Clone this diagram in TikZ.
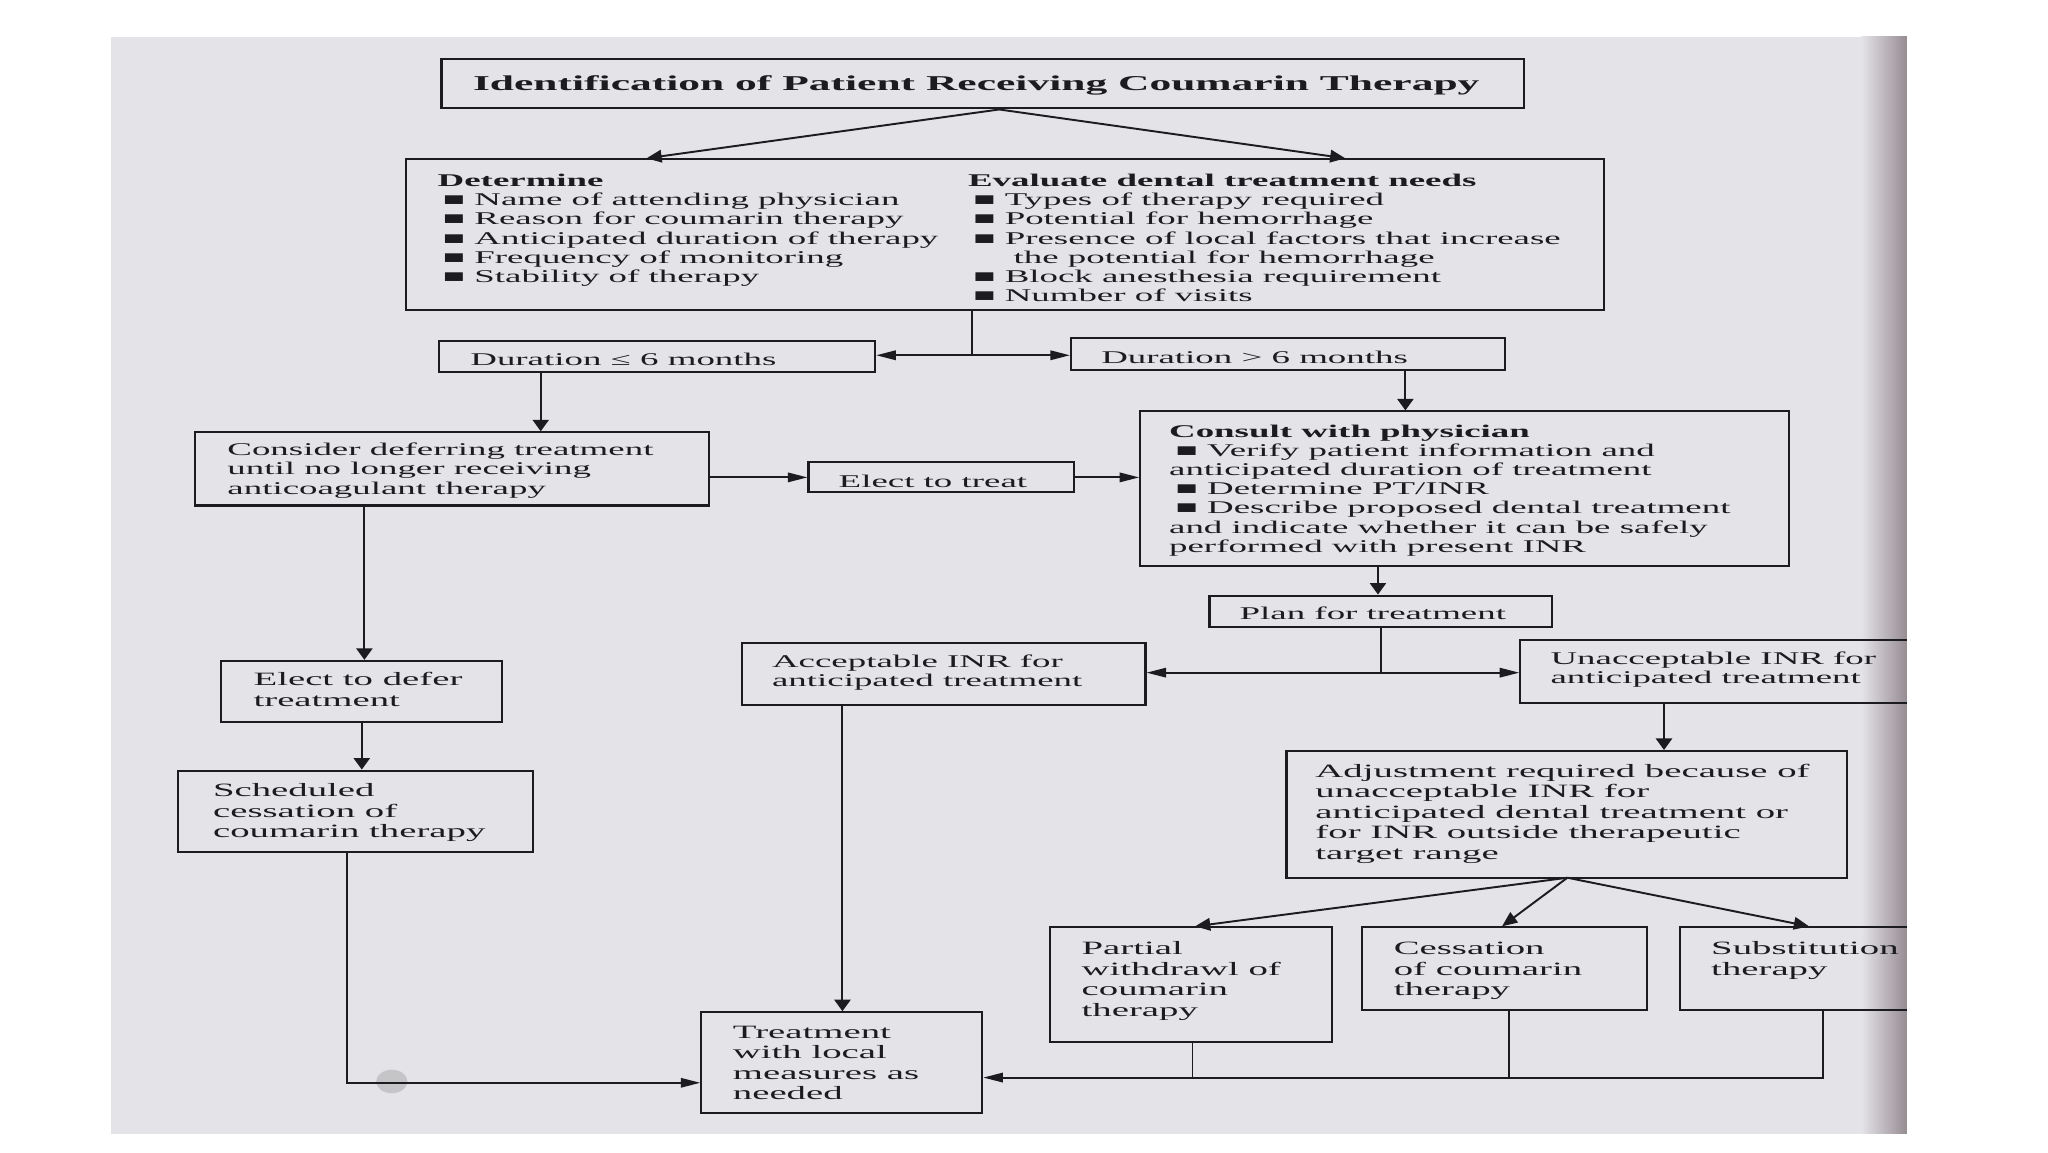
\documentclass[tikz,border=0pt]{standalone}
\usepackage{fontspec}
\setmainfont{Liberation Serif}[FakeStretch=2.06]
\usetikzlibrary{arrows.meta,fit}
\definecolor{paper}{RGB}{228,227,232}
\definecolor{ink}{RGB}{28,28,32}
\definecolor{pshade}{RGB}{150,140,146}
\newcommand{\fa}{\fontsize{19.5pt}{20.8pt}\selectfont}
\newcommand{\fb}{\fontsize{20.5pt}{22.3pt}\selectfont}
\newcommand{\tlines}[2]{\parbox[t]{40cm}{#1#2}}
\newcommand{\bul}{■ }
\tikzset{
  box/.style={draw=ink, line width=2.3pt, inner sep=0pt},
  tx/.style={anchor=base west, inner sep=0pt, text=ink, yshift=-0.1cm},
  ln/.style={draw=ink, line width=2.1pt},
  harr/.style={ln, -{Triangle[length=0.75cm,width=0.36cm]}},
  varr/.style={ln, -{Triangle[length=0.44cm,width=0.62cm]}},
  darr/.style={ln, -{Triangle[length=0.58cm,width=0.48cm]}},
}
\newcommand{\bx}[5]{\node[box, fit={(#2,#3) (#4,#5)}] (#1) {};}
\begin{document}
\begin{tikzpicture}[x=0.05cm, y=-0.05cm]
\path[use as bounding box] (0,0) rectangle (1568,882);
\fill[white] (0,0) rectangle (1568,882);
\fill[paper] (85,28) rectangle (1460,868);
\shade[left color=paper, right color=pshade] (1425,28) rectangle (1460,868);
\fill[gray, opacity=0.3] (300,828) ellipse [x radius=0.6cm, y radius=0.45cm];
\begin{scope}
\clip (85,28) rectangle (1460,868);
% boxes
\bx{title}{338}{45}{1167}{83}
\bx{eval}{311}{122}{1228}{237}
\bx{dle}{336}{261}{670}{285}
\bx{dgt}{820}{259}{1152}{283}
\bx{cons}{149}{331}{543}{387}
\bx{elt}{619}{354}{822}{377}
\bx{phys}{873}{315}{1370}{433}
\bx{plan}{926}{456}{1188}{480}
\bx{acc}{568}{492}{877}{540}
\bx{unacc}{1164}{490}{1490}{538}
\bx{defer}{169}{506}{384}{553}
\bx{sched}{136}{590}{408}{652}
\bx{adj}{985}{575}{1414}{672}
\bx{part}{804}{710}{1020}{798}
\bx{cess}{1043}{710}{1261}{773}
\bx{subs}{1286}{710}{1490}{773}
\bx{treat}{537}{775}{752}{852}
% texts
\node[tx] (ttitle) at (362,67) {\fontsize{23pt}{25pt}\selectfont\bfseries Identification of Patient Receiving Coumarin Therapy};
\node[tx] (tdet) at (335,141) {\tlines{\fa}{\textbf{Determine}\\
\hspace*{0.2cm}\bul Name of attending physician\\
\hspace*{0.2cm}\bul Reason for coumarin therapy\\
\hspace*{0.2cm}\bul Anticipated duration of therapy\\
\hspace*{0.2cm}\bul Frequency of monitoring\\
\hspace*{0.2cm}\bul Stability of therapy}};
\node[tx] (teval) at (741,141) {\tlines{\fa}{\textbf{Evaluate dental treatment needs}\\
\hspace*{0.2cm}\bul Types of therapy required\\
\hspace*{0.2cm}\bul Potential for hemorrhage\\
\hspace*{0.2cm}\bul Presence of local factors that increase\\
\hspace*{1.75cm}the potential for hemorrhage\\
\hspace*{0.2cm}\bul Block anesthesia requirement\\
\hspace*{0.2cm}\bul Number of visits}};
\node[tx] (tdle) at (360,278) {\fa Duration ≤ 6 months};
\node[tx] (tdgt) at (843,276) {\fa Duration > 6 months};
\node[tx] (tcons) at (174,347) {\tlines{\fa}{Consider deferring treatment\\
until no longer receiving\\
anticoagulant therapy}};
\node[tx] (telt) at (642,371) {\fa Elect to treat};
\node[tx] (tphys) at (895,333) {\tlines{\fa}{\textbf{Consult with physician}\\
\hspace*{0.25cm}\bul Verify patient information and\\
anticipated duration of treatment\\
\hspace*{0.25cm}\bul Determine PT/INR\\
\hspace*{0.25cm}\bul Describe proposed dental treatment\\
and indicate whether it can be safely\\
performed with present INR}};
\node[tx] (tplan) at (949,472) {\fa Plan for treatment};
\node[tx] (tacc) at (591,509) {\tlines{\fa}{Acceptable INR for\\anticipated treatment}};
\node[tx] (tunacc) at (1187,507) {\tlines{\fa}{Unacceptable INR for\\anticipated treatment}};
\node[tx] (tdefer) at (194,523) {\tlines{\fb}{Elect to defer\\treatment}};
\node[tx] (tsched) at (163,608) {\tlines{\fb}{Scheduled\\cessation of\\coumarin therapy}};
\node[tx] (tadj) at (1007,593) {\tlines{\fb}{Adjustment required because of\\
unacceptable INR for\\
anticipated dental treatment or\\
for INR outside therapeutic\\
target range}};
\node[tx] (tpart) at (828,729) {\tlines{\fb}{Partial\\withdrawl of\\coumarin\\therapy}};
\node[tx] (tcess) at (1067,729) {\tlines{\fb}{Cessation\\of coumarin\\therapy}};
\node[tx] (tsubs) at (1310,729) {\tlines{\fb}{Substitution\\therapy}};
\node[tx] (ttreat) at (561,793) {\tlines{\fb}{Treatment\\with local\\measures as\\needed}};
% connectors
\draw[darr] (title.south -| 765,0) -- (eval.north -| 495,0);
\draw[darr] (title.south -| 765,0) -- (eval.north -| 1030,0);
\coordinate (j1) at (744,272);
\draw[ln] (eval.south -| j1) -- (j1);
\draw[harr] (j1) -- (dle.east |- j1);
\draw[harr] (j1) -- (dgt.west |- j1);
\draw[varr] (dle.south -| 414,0) -- (cons.north -| 414,0);
\draw[varr] (dgt.south -| 1076,0) -- (phys.north -| 1076,0);
\draw[harr] (cons.east |- elt.west) -- (elt.west);
\draw[harr] (elt.east) -- (phys.west |- elt.east);
\draw[varr] (phys.south -| 1055,0) -- (plan.north -| 1055,0);
\coordinate (j2) at (1057,515);
\draw[ln] (plan.south -| j2) -- (j2);
\draw[harr] (j2) -- (acc.east |- j2);
\draw[harr] (j2) -- (unacc.west |- j2);
\draw[varr] (unacc.south -| 1274,0) -- (adj.north -| 1274,0);
\coordinate (j3) at (1200,672);
\draw[darr] (j3) -- (part.north -| 915,0);
\draw[darr] (j3) -- (cess.north -| 1150,0);
\draw[darr] (j3) -- (subs.north -| 1385,0);
\coordinate (j4) at (1396,825);
\coordinate (jp) at (913,825);
\coordinate (jc) at (1155,825);
\draw[ln] (part.south -| jp) -- (jp);
\draw[ln] (cess.south -| jc) -- (jc);
\draw[harr] (subs.south -| j4) -- (j4) -- (treat.east |- j4);
\draw[varr] (acc.south -| 645,0) -- (treat.north -| 645,0);
\draw[varr] (cons.south -| 279,0) -- (defer.north -| 279,0);
\draw[varr] (defer.south -| 277,0) -- (sched.north -| 277,0);
\coordinate (j5) at (266,829);
\draw[harr] (sched.south -| j5) -- (j5) -- (treat.west |- j5);
\end{scope}
\end{tikzpicture}
\end{document}
